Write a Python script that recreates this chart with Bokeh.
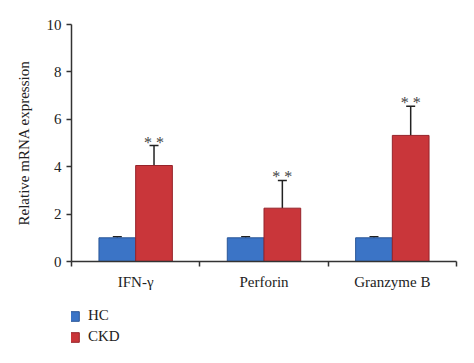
import numpy as np
from bokeh.plotting import figure
from bokeh.layouts import column
from bokeh.models import (Range1d, FixedTicker, Whisker, TeeHead, ColumnDataSource,
                          Legend, LegendItem, LabelSet)
from bokeh.embed import file_html
from bokeh.resources import INLINE

categories = ["IFN-\u03b3", "Perforin", "Granzyme B"]
series_names = ["HC", "CKD"]
hc_values = [1.0, 1.0, 1.0]
hc_err_top = [1.04, 1.04, 1.04]
ckd_values = [4.05, 2.25, 5.32]
ckd_err_top = [4.89, 3.42, 6.55]
sig_labels = ["* *", "* *", "* *"]
y_ticks = [0, 2, 4, 6, 8, 10]

n = len(categories)
centers = np.arange(n) + 0.5
bounds = np.arange(n + 1)
off = 0.143
bw = 0.286

FONT = "Liberation Serif"
FS = "15px"
BLUE = "#3b74c6"
BLUE_D = "#2a5697"
RED = "#c9363a"
RED_D = "#96232a"
TXT = "#222222"

p = figure(width=458, height=300, output_backend="svg", toolbar_location=None,
           x_range=Range1d(0, n), y_range=Range1d(0, 10),
           min_border_left=71, min_border_right=2, min_border_top=24, min_border_bottom=39)
p.outline_line_color = None
p.grid.visible = False

hc_src = ColumnDataSource(dict(x=centers - off, top=hc_values, err=hc_err_top))
ckd_src = ColumnDataSource(dict(x=centers + off, top=ckd_values, err=ckd_err_top, lab=sig_labels))

p.vbar(x="x", top="top", width=bw, source=hc_src, fill_color=BLUE, line_color=BLUE_D, line_width=1)
p.vbar(x="x", top="top", width=bw, source=ckd_src, fill_color=RED, line_color=RED_D, line_width=1)

for src in (hc_src, ckd_src):
    w = Whisker(base="x", lower="top", upper="err", source=src, line_color=TXT, line_width=1.5,
                upper_head=TeeHead(size=9, line_color=TXT, line_width=1.5), lower_head=None)
    p.add_layout(w)

stars = LabelSet(x="x", y="err", text="lab", source=ckd_src, text_align="center",
                 text_baseline="bottom", y_offset=-5, text_font=FONT, text_font_size="16px",
                 text_color="#444444")
p.add_layout(stars)

# y axis
p.yaxis.ticker = FixedTicker(ticks=y_ticks)
p.yaxis.axis_label = "Relative mRNA expression"
p.yaxis.axis_label_text_font = FONT
p.yaxis.axis_label_text_font_style = "normal"
p.yaxis.axis_label_text_font_size = FS
p.yaxis.axis_label_text_color = TXT
p.yaxis.axis_label_standoff = 12
p.yaxis.major_label_text_font = FONT
p.yaxis.major_label_text_font_size = FS
p.yaxis.major_label_text_color = TXT
p.yaxis.major_tick_out = 5
p.yaxis.major_tick_in = 0
p.yaxis.minor_tick_out = 0
p.yaxis.minor_tick_in = 0
p.yaxis.major_label_standoff = 5

# x axis
p.xaxis.ticker = FixedTicker(ticks=list(centers), minor_ticks=list(bounds))
p.xaxis.major_label_overrides = {float(c): lab for c, lab in zip(centers, categories)}
p.xaxis.major_label_text_font = FONT
p.xaxis.major_label_text_font_size = FS
p.xaxis.major_label_text_color = TXT
p.xaxis.major_tick_out = 0
p.xaxis.major_tick_in = 0
p.xaxis.minor_tick_out = 5
p.xaxis.minor_tick_in = 0
p.xaxis.major_label_standoff = 7

for ax in (p.xaxis, p.yaxis):
    ax.axis_line_color = "#333333"
    ax.axis_line_width = 1.5
    ax.major_tick_line_color = "#333333"
    ax.minor_tick_line_color = "#333333"
    ax.major_tick_line_width = 1.5
    ax.minor_tick_line_width = 1.5

# legend panel below the chart (its bars lie below its visible y range)
p2 = figure(width=458, height=47, output_backend="svg", toolbar_location=None,
            x_range=Range1d(0, n), y_range=Range1d(50, 51),
            x_axis_location=None, y_axis_location=None,
            min_border=0, outline_line_color=None)
p2.grid.visible = False
l_hc = p2.vbar(x="x", top="top", width=bw, source=hc_src, fill_color=BLUE, line_color=BLUE_D)
l_ckd = p2.vbar(x="x", top="top", width=bw, source=ckd_src, fill_color=RED, line_color=RED_D)
legend = Legend(items=[LegendItem(label=series_names[0], renderers=[l_hc]),
                       LegendItem(label=series_names[1], renderers=[l_ckd])],
                location=(-3, 2), orientation="vertical",
                label_text_font=FONT, label_text_font_size=FS, label_text_color=TXT,
                glyph_width=12, glyph_height=12, label_height=12, spacing=4, padding=0, margin=0,
                label_standoff=8, border_line_color=None, background_fill_alpha=0)
p2.add_layout(legend)

open("out.html", "w").write(file_html(column(p, p2, spacing=0), INLINE))
